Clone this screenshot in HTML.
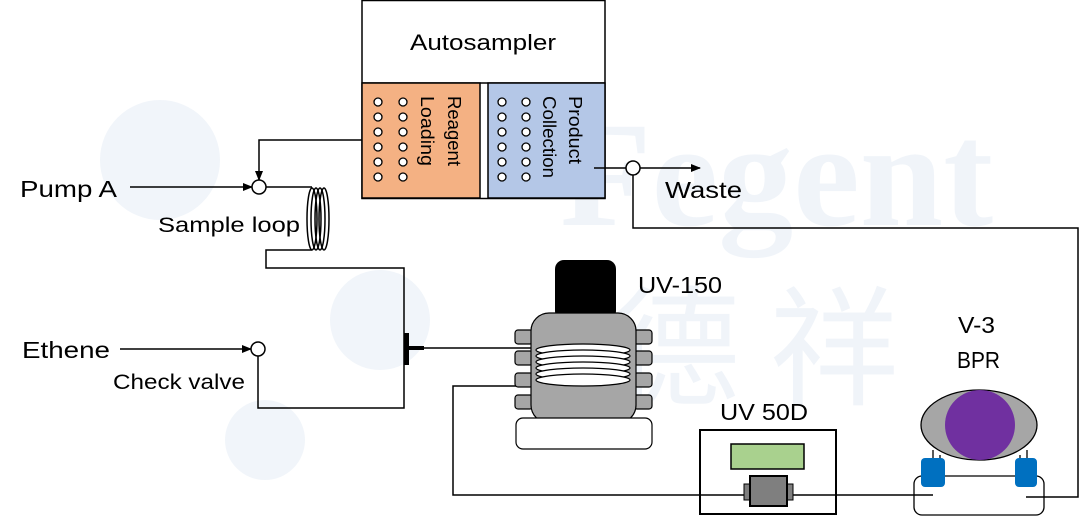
<!DOCTYPE html>
<html><head><meta charset="utf-8"><style>
html,body{margin:0;padding:0;background:#fff;}
svg{display:block;font-family:"Liberation Sans","DejaVu Sans",sans-serif;}
</style></head><body>
<svg width="1080" height="516" viewBox="0 0 1080 516" xmlns="http://www.w3.org/2000/svg">
<defs>
<marker id="ar" markerWidth="10" markerHeight="10" refX="9" refY="5" orient="auto" markerUnits="userSpaceOnUse"><path d="M0,1 L10,5 L0,9 Z" fill="#000"/></marker>
<clipPath id="ec"><ellipse cx="979" cy="425" rx="58" ry="35"/></clipPath>
</defs>
<!-- watermark -->
<g opacity="0.07" fill="#3a6fb5">
<text x="560" y="225" font-family="Liberation Serif" font-size="150" font-weight="bold">Fegent</text>
<text x="610" y="395" font-size="130" font-family="Noto Sans CJK SC">德 祥</text>
<circle cx="160" cy="160" r="60"/><circle cx="380" cy="320" r="50"/><circle cx="265" cy="440" r="40"/>
</g>
<!-- autosampler -->
<rect x="362" y="0.5" width="243" height="198" fill="#fff" stroke="#000" stroke-width="1.5"/>
<line x1="362" y1="83" x2="605" y2="83" stroke="#000" stroke-width="1.5"/>
<text x="410" y="50" font-size="22" textLength="146" lengthAdjust="spacingAndGlyphs">Autosampler</text>
<rect x="362" y="83" width="118" height="115" fill="#f4b183" stroke="#000" stroke-width="1.5"/>
<rect x="488" y="83" width="117" height="115" fill="#b4c7e7" stroke="#000" stroke-width="1.5"/>
<g fill="#fff" stroke="#000" stroke-width="1.3">
<circle cx="378" cy="102" r="4"/><circle cx="378" cy="117" r="4"/><circle cx="378" cy="132" r="4"/><circle cx="378" cy="147" r="4"/><circle cx="378" cy="162" r="4"/><circle cx="378" cy="177" r="4"/>
<circle cx="403" cy="102" r="4"/><circle cx="403" cy="117" r="4"/><circle cx="403" cy="132" r="4"/><circle cx="403" cy="147" r="4"/><circle cx="403" cy="162" r="4"/><circle cx="403" cy="177" r="4"/>
<circle cx="502" cy="102" r="4"/><circle cx="502" cy="117" r="4"/><circle cx="502" cy="132" r="4"/><circle cx="502" cy="147" r="4"/><circle cx="502" cy="162" r="4"/><circle cx="502" cy="177" r="4"/>
<circle cx="526" cy="102" r="4"/><circle cx="526" cy="117" r="4"/><circle cx="526" cy="132" r="4"/><circle cx="526" cy="147" r="4"/><circle cx="526" cy="162" r="4"/><circle cx="526" cy="177" r="4"/>
</g>
<g font-size="18">
<text transform="translate(448,96) rotate(90)" textLength="70" lengthAdjust="spacingAndGlyphs">Reagent</text>
<text transform="translate(421,96) rotate(90)" textLength="70" lengthAdjust="spacingAndGlyphs">Loading</text>
<text transform="translate(569,96) rotate(90)" textLength="68" lengthAdjust="spacingAndGlyphs">Product</text>
<text transform="translate(543,96) rotate(90)" textLength="82" lengthAdjust="spacingAndGlyphs">Collection</text>
</g>
<g fill="none" stroke="#000" stroke-width="1.5">
<line x1="594" y1="168" x2="626" y2="168"/>
<line x1="640" y1="168" x2="700" y2="168" marker-end="url(#ar)"/>
<polyline points="633,175 633,228 1078,228 1078,497 1026,497"/>
<polyline points="362,140 259,140 259,180" marker-end="url(#ar)"/>
<line x1="130" y1="187" x2="252" y2="187" marker-end="url(#ar)"/>
<line x1="266" y1="187" x2="312" y2="187"/>
<ellipse cx="312" cy="219" rx="5" ry="31"/>
<ellipse cx="316" cy="219" rx="5" ry="31"/>
<ellipse cx="320" cy="219" rx="5" ry="31"/>
<ellipse cx="324" cy="219" rx="5" ry="31"/>
<polyline points="312,250 266,250 266,268 404,268 404,408 258,408 258,356"/>
<line x1="120" y1="349" x2="251" y2="349" marker-end="url(#ar)"/>
<line x1="410" y1="348" x2="535" y2="348"/>
<polyline points="535,386 453,386 453,495 750,495"/>
<line x1="787" y1="495" x2="933" y2="495"/>
</g>
<circle cx="259" cy="187" r="7" fill="#fff" stroke="#000" stroke-width="1.5"/>
<circle cx="258" cy="349" r="7" fill="#fff" stroke="#000" stroke-width="1.5"/>
<circle cx="633" cy="168" r="7" fill="#fff" stroke="#000" stroke-width="1.5"/>
<rect x="404" y="333" width="5" height="32" fill="#000"/>
<rect x="404" y="346" width="20" height="4" fill="#000"/>
<g font-size="23">
<text x="20" y="197" textLength="97" lengthAdjust="spacingAndGlyphs">Pump A</text>
<text x="22" y="358" textLength="88" lengthAdjust="spacingAndGlyphs">Ethene</text>
<text x="665" y="198" textLength="77" lengthAdjust="spacingAndGlyphs">Waste</text>
<text x="638" y="293" textLength="84" lengthAdjust="spacingAndGlyphs">UV-150</text>
<text x="720" y="420" textLength="88" lengthAdjust="spacingAndGlyphs">UV 50D</text>
<text x="958" y="333" textLength="37" lengthAdjust="spacingAndGlyphs">V-3</text>
<text x="957" y="368" textLength="43" lengthAdjust="spacingAndGlyphs">BPR</text>
</g>
<text x="158" y="232" font-size="21" textLength="142" lengthAdjust="spacingAndGlyphs">Sample loop</text>
<text x="113" y="389" font-size="21" textLength="132" lengthAdjust="spacingAndGlyphs">Check valve</text>
<!-- UV-150 -->
<rect x="555" y="260" width="61" height="60" rx="9" fill="#000"/>
<g fill="#a6a6a6" stroke="#000" stroke-width="1.2">
<rect x="515" y="330" width="18" height="14" rx="3"/><rect x="515" y="351" width="18" height="14" rx="3"/><rect x="515" y="373" width="18" height="14" rx="3"/><rect x="515" y="395" width="18" height="14" rx="3"/>
<rect x="634" y="330" width="18" height="14" rx="3"/><rect x="634" y="351" width="18" height="14" rx="3"/><rect x="634" y="373" width="18" height="14" rx="3"/><rect x="634" y="395" width="18" height="14" rx="3"/>
<rect x="531" y="313" width="105" height="110" rx="18"/>
</g>
<g fill="#fff" stroke="#000" stroke-width="1.2">
<ellipse cx="583" cy="350" rx="47" ry="6"/><ellipse cx="583" cy="356" rx="47" ry="6"/><ellipse cx="583" cy="362" rx="47" ry="6"/><ellipse cx="583" cy="368" rx="47" ry="6"/><ellipse cx="583" cy="374" rx="47" ry="6"/><ellipse cx="583" cy="380" rx="47" ry="6"/>
<rect x="516" y="418" width="136" height="31" rx="7"/>
</g>
<!-- UV 50D -->
<rect x="700" y="430" width="136" height="84" fill="none" stroke="#000" stroke-width="2"/>
<rect x="731" y="444" width="73" height="25" fill="#a9d18e" stroke="#000" stroke-width="1.5"/>
<rect x="744" y="484" width="6" height="16" fill="#7f7f7f" stroke="#000"/>
<rect x="787" y="484" width="6" height="16" fill="#7f7f7f" stroke="#000"/>
<rect x="750" y="476" width="37" height="30" fill="#7f7f7f" stroke="#000" stroke-width="2"/>
<!-- BPR -->
<rect x="914" y="476" width="130" height="39" rx="8" fill="none" stroke="#000" stroke-width="1.3"/>
<g stroke="#000" stroke-width="1.3">
<line x1="933" y1="450" x2="933" y2="470"/><line x1="940" y1="455" x2="940" y2="470"/>
<line x1="1020" y1="455" x2="1020" y2="470"/><line x1="1027" y1="450" x2="1027" y2="470"/>
</g>
<ellipse cx="979" cy="425" rx="58" ry="35" fill="#a6a6a6" stroke="#000" stroke-width="1.3"/>
<circle cx="980" cy="425" r="35" fill="#7030a0" clip-path="url(#ec)"/>
<rect x="921" y="458" width="24" height="29" rx="4" fill="#0070c0"/>
<rect x="1015" y="458" width="22" height="29" rx="4" fill="#0070c0"/>
</svg>
</body></html>
